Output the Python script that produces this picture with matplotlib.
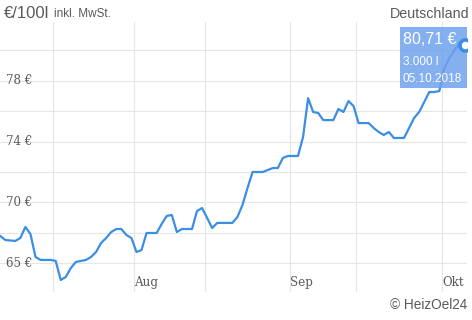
import numpy as np
import pandas as pd
import matplotlib
matplotlib.use("Agg")
import matplotlib.pyplot as plt
import matplotlib.patches as patches

# daily heating oil price (EUR / 100 l, 3000 l order)
start_day = "2018-07-05 12:00"
prices = [
    67.25, 66.97, 66.93, 66.90, 67.11, 67.88, 67.39, 65.77, 65.56, 65.56,
    65.56, 65.49, 64.15, 64.36, 64.99, 65.42, 65.49, 65.56, 65.77, 66.12,
    66.76, 67.11, 67.53, 67.74, 67.74, 67.32, 67.11, 66.12, 66.26, 67.46,
    67.46, 67.46, 68.10, 68.66, 68.73, 67.53, 67.74, 67.74, 67.74, 69.01,
    69.22, 68.52, 67.81, 68.17, 68.17, 68.17, 68.17, 68.59, 69.43, 70.63,
    71.76, 71.76, 71.76, 71.90, 72.04, 72.04, 72.75, 72.89, 72.89, 72.89,
    74.23, 76.97, 75.99, 75.92, 75.42, 75.42, 75.42, 76.20, 75.99, 76.76,
    76.41, 75.21, 75.21, 75.21, 74.86, 74.58, 74.37, 74.58, 74.16, 74.16,
    74.16, 74.86, 75.57, 75.99, 76.69, 77.40, 77.40, 77.47, 79.09, 79.79,
    80.36, 80.85, 80.71,
]
dates = pd.date_range(start_day, periods=len(prices), freq="D")

month_ticks = ["2018-08-01", "2018-09-01", "2018-10-01"]
month_labels = ["Aug", "Sep", "Okt"]
mid_ticks = ["2018-07-16", "2018-08-15", "2018-09-14"]
y_ticks = [65.31, 69.61, 73.91, 78.21]
y_minor = [67.46, 71.76, 76.06, 80.36]

last_price = "80,71 €"
last_amount = "3.000 l"
last_date = "05.10.2018"

line_col = "#3b8ee3"
grid_col = "#e6e6e6"
text_col = "#5a5a5a"

fig = plt.figure(figsize=(4.72, 3.2), dpi=100)
ax = fig.add_axes([0.0, 0.0875, 0.989, 0.8435])

ax.plot(dates, prices, color=line_col, lw=1.6, zorder=3, solid_joinstyle="round")
ax.plot(dates[-1:], prices[-1:], "o", ms=8, mfc="white", mec=line_col, mew=2.6, zorder=5)

ax.set_xticks(pd.to_datetime(month_ticks))
ax.set_xticklabels(month_labels, ha="left", family="DejaVu Serif", fontsize=8.6, color=text_col)
ax.set_xticks(pd.to_datetime(mid_ticks), minor=True)
ax.set_yticks(y_ticks)
ax.set_yticklabels(["%.0f €" % v for v in y_ticks], ha="left", va="center",
                   family="DejaVu Serif", fontsize=8.6, color=text_col)
ax.set_yticks(y_minor, minor=True)
ax.set_xlim(pd.Timestamp("2018-07-05 11:15"), pd.Timestamp("2018-10-05 22:30"))
ax.set_ylim(63.30, 82.33)
ax.tick_params(axis="x", which="both", length=0, pad=-11.5)
ax.tick_params(axis="y", which="both", length=0, pad=-4)
ax.grid(True, which="both", color=grid_col, lw=0.8, zorder=0)
for s in ax.spines.values():
    s.set_visible(False)

# tooltip box for the last value
ax.add_patch(patches.Rectangle((0.856, 0.756), 0.15, 0.226, transform=ax.transAxes,
                               facecolor="#6ea2ee", edgecolor="none", alpha=0.85, zorder=4))
ax.text(0.863, 0.935, last_price, transform=ax.transAxes, color="white",
        fontsize=11.5, family="Liberation Sans", va="center", zorder=6)
ax.text(0.863, 0.853, last_amount, transform=ax.transAxes, color="white",
        fontsize=8.5, family="Liberation Sans", va="center", zorder=6)
ax.text(0.863, 0.790, last_date, transform=ax.transAxes, color="white",
        fontsize=8.5, family="Liberation Sans", va="center", zorder=6)

fig.text(0.008, 0.958, "€/100l", fontsize=12, color=text_col, family="Liberation Sans", va="center")
fig.text(0.114, 0.955, "inkl. MwSt.", fontsize=8.5, color=text_col, family="Liberation Sans", va="center")
fig.text(0.994, 0.957, "Deutschland", fontsize=10.3, color=text_col, family="Liberation Sans",
         va="center", ha="right")
fig.text(0.99, 0.047, "© HeizOel24", fontsize=9.8, color=text_col, family="Liberation Sans",
         va="center", ha="right")

fig.savefig("out.png", dpi=100)
